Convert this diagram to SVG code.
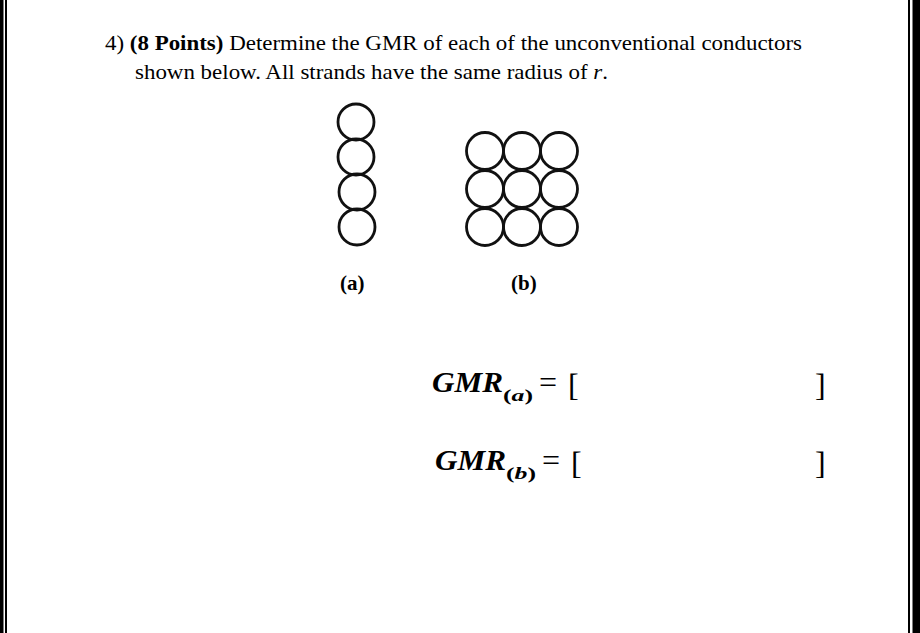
<svg xmlns="http://www.w3.org/2000/svg" width="920" height="633" viewBox="0 0 920 633">
<style>
.t{font-family:"Liberation Serif",serif;font-size:21px;fill:#000}
.c{fill:none;stroke:#111;stroke-width:2.8}
.g{font-family:"Liberation Serif",serif;font-size:30px;font-weight:bold;font-style:italic}
.s{font-family:"Liberation Serif",serif;font-size:17px;font-weight:bold}
.e{font-family:"Liberation Serif",serif;font-size:32px}
</style>
<rect width="920" height="633" fill="#fff"/>
<rect x="0" y="0" width="3.5" height="633" fill="#000"/>
<rect x="5" y="0" width="2" height="633" fill="#000"/>
<rect x="908" y="0" width="2" height="633" fill="#000"/>
<rect x="912.5" y="0" width="7.5" height="633" fill="#000"/>
<text class="t" x="105" y="50" textLength="697" lengthAdjust="spacingAndGlyphs">4)  <tspan font-weight="bold">(8 Points)</tspan> Determine the GMR of each of the unconventional conductors</text>
<text class="t" x="135" y="79" textLength="473" lengthAdjust="spacingAndGlyphs">shown below. All strands have the same radius of <tspan font-style="italic">r</tspan>.</text>
<g id="a">
<circle class="c" cx="356" cy="122" r="18"/>
<circle class="c" cx="356" cy="157" r="18"/>
<circle class="c" cx="357" cy="192" r="18"/>
<circle class="c" cx="357" cy="227" r="18"/>
</g>
<g id="b">
<circle class="c" cx="485" cy="151" r="18.5"/>
<circle class="c" cx="522" cy="151" r="18.5"/>
<circle class="c" cx="559" cy="151" r="18.5"/>
<circle class="c" cx="485" cy="189" r="18.5"/>
<circle class="c" cx="522" cy="189" r="18.5"/>
<circle class="c" cx="559" cy="189" r="18.5"/>
<circle class="c" cx="485" cy="227" r="18.5"/>
<circle class="c" cx="522" cy="227" r="18.5"/>
<circle class="c" cx="559" cy="227" r="18.5"/>
</g>
<text class="t" x="340" y="290" font-weight="bold">(a)</text>
<text class="t" x="511" y="290" font-weight="bold">(b)</text>
<text class="g" x="432" y="392" textLength="71" lengthAdjust="spacingAndGlyphs">GMR</text>
<text class="s" x="503" y="401" textLength="30" lengthAdjust="spacingAndGlyphs">(<tspan font-style="italic">a</tspan>)</text>
<text class="e" x="539" y="393">=</text>
<text class="e" x="568" y="396">[</text>
<text class="e" x="815" y="396">]</text>
<text class="g" x="435" y="470" textLength="71" lengthAdjust="spacingAndGlyphs">GMR</text>
<text class="s" x="506" y="479" textLength="30" lengthAdjust="spacingAndGlyphs">(<tspan font-style="italic">b</tspan>)</text>
<text class="e" x="542" y="471">=</text>
<text class="e" x="571" y="474">[</text>
<text class="e" x="815" y="474">]</text>
</svg>
